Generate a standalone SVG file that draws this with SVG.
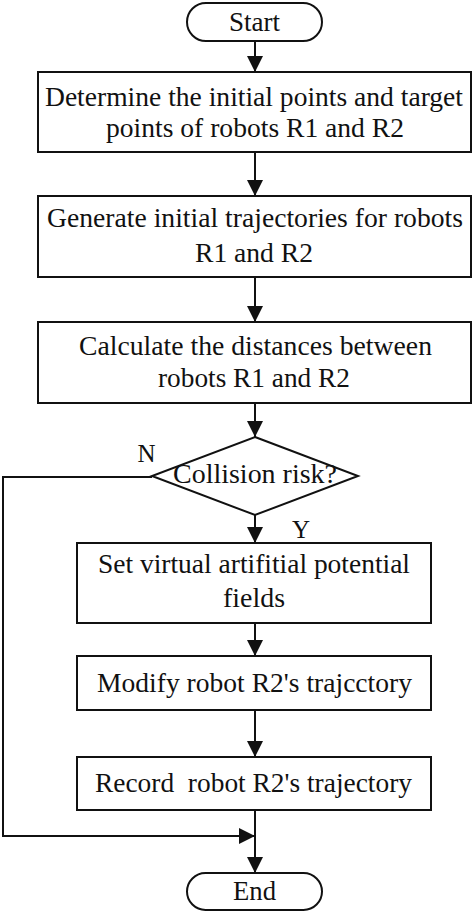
<svg xmlns="http://www.w3.org/2000/svg" width="474" height="913" viewBox="0 0 474 913">
<style>
.s{fill:#fff;stroke:#111;stroke-width:2}
.t{font-family:"Liberation Serif","Times New Roman",serif;font-size:27px;fill:#111;text-anchor:middle}
.l{font-family:"Liberation Serif","Times New Roman",serif;font-size:25px;fill:#111;text-anchor:middle}
.c{fill:none;stroke:#111;stroke-width:2}
</style>
<defs>
<marker id="ah" viewBox="0 0 16 16" refX="16" refY="8" markerWidth="16" markerHeight="16" markerUnits="userSpaceOnUse" orient="auto">
<path d="M0,0 L16,8 L0,16 Z" fill="#111"/>
</marker>
</defs>
<rect width="474" height="913" fill="#fff"/>
<g id="connectors">
<line class="c" x1="255" y1="41" x2="255" y2="72" marker-end="url(#ah)"/>
<line class="c" x1="255" y1="152" x2="255" y2="196" marker-end="url(#ah)"/>
<line class="c" x1="255" y1="277" x2="255" y2="322" marker-end="url(#ah)"/>
<line class="c" x1="255" y1="403" x2="255" y2="437" marker-end="url(#ah)"/>
<line class="c" x1="255" y1="515" x2="255" y2="543" marker-end="url(#ah)"/>
<line class="c" x1="255" y1="623" x2="255" y2="656" marker-end="url(#ah)"/>
<line class="c" x1="255" y1="710" x2="255" y2="757" marker-end="url(#ah)"/>
<line class="c" x1="255" y1="810" x2="255" y2="873" marker-end="url(#ah)"/>
<polyline class="c" points="152,477 3,477 3,836 255,836" marker-end="url(#ah)"/>
<text class="l" x="146.5" y="462">N</text>
<text class="l" x="301" y="538">Y</text>
</g>
<g id="start">
<rect class="s" x="187" y="3" width="135" height="38" rx="19"/>
<text class="t" x="254.5" y="31" textLength="51" lengthAdjust="spacingAndGlyphs">Start</text>
</g>
<g id="determine">
<rect class="s" x="38" y="72" width="433" height="80"/>
<text class="t" x="254" y="106" textLength="418" lengthAdjust="spacingAndGlyphs">Determine the initial points and target</text>
<text class="t" x="255" y="137" textLength="298" lengthAdjust="spacingAndGlyphs">points of robots R1 and R2</text>
</g>
<g id="generate">
<rect class="s" x="38" y="196" width="433" height="81"/>
<text class="t" x="255" y="227" textLength="416" lengthAdjust="spacingAndGlyphs">Generate initial trajectories for robots</text>
<text class="t" x="254" y="262" textLength="118" lengthAdjust="spacingAndGlyphs">R1 and R2</text>
</g>
<g id="calculate">
<rect class="s" x="38" y="322" width="433" height="81"/>
<text class="t" x="255.5" y="355" textLength="353" lengthAdjust="spacingAndGlyphs">Calculate the distances between</text>
<text class="t" x="254" y="387" textLength="192" lengthAdjust="spacingAndGlyphs">robots R1 and R2</text>
</g>
<g id="collision">
<polygon class="s" points="255,437 358,476 255,515 152,476"/>
<text class="t" x="255" y="483" textLength="164" lengthAdjust="spacingAndGlyphs">Collision risk?</text>
</g>
<g id="setfields">
<rect class="s" x="77" y="543" width="354" height="80"/>
<text class="t" x="254" y="573" textLength="312" lengthAdjust="spacingAndGlyphs">Set virtual artifitial potential</text>
<text class="t" x="254" y="607" textLength="62" lengthAdjust="spacingAndGlyphs">fields</text>
</g>
<g id="modify">
<rect class="s" x="77" y="656" width="354" height="54"/>
<text class="t" x="254.5" y="692" textLength="315" lengthAdjust="spacingAndGlyphs">Modify robot R2's trajcctory</text>
</g>
<g id="record">
<rect class="s" x="77" y="757" width="354" height="53"/>
<text class="t" x="253.5" y="792" textLength="317" lengthAdjust="spacingAndGlyphs" xml:space="preserve">Record  robot R2's trajectory</text>
</g>
<g id="end">
<rect class="s" x="187" y="873" width="135" height="37" rx="18.5"/>
<text class="t" x="254.5" y="900" textLength="43" lengthAdjust="spacingAndGlyphs">End</text>
</g>
</svg>
